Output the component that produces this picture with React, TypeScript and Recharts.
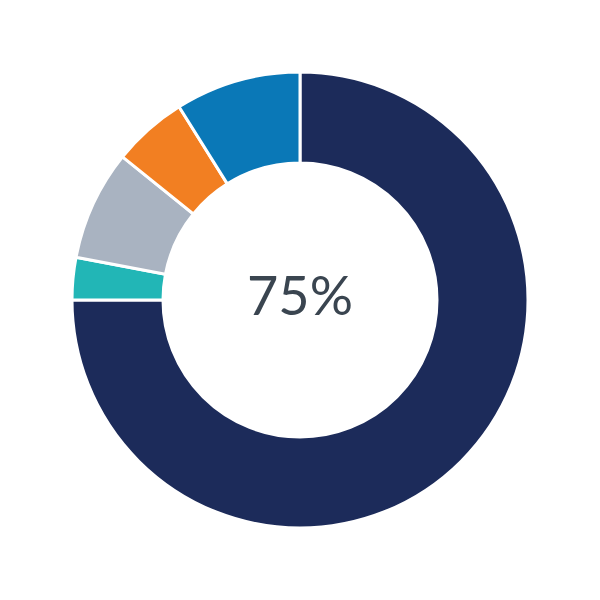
import { PieChart, Pie, Cell, Label } from "recharts"

const segmentNames = ["Navy", "Teal", "Gray", "Orange", "Blue"]
const segmentValues = [75, 3, 7.8, 5.3, 8.9]
const segmentColors = ["#1c2b5a", "#22b6b6", "#a9b3c1", "#f27f22", "#0a78b7"]
const centerLabel = "75%"

export default function App() {
  const data = segmentNames.map((name, i) => ({ name, value: segmentValues[i] }))

  return (
    <div style={{ width: 584, height: 584, background: "#fff" }}>
      <PieChart width={584} height={584} margin={{ top: 0, right: 0, bottom: 0, left: 0 }}>
        <Pie
          data={data}
          dataKey="value"
          cx={292}
          cy={292}
          innerRadius={137}
          outerRadius={228}
          startAngle={90}
          endAngle={-270}
          stroke="#fff"
          strokeWidth={3}
          isAnimationActive={false}
        >
          {data.map((entry, index) => (
            <Cell key={`cell-${index}`} fill={segmentColors[index]} />
          ))}
          <Label
            value={centerLabel}
            position="center"
            fill="#3a4550"
            dy={-4}
            style={{ fontFamily: "Lato, sans-serif", fontSize: 54 }}
          />
        </Pie>
      </PieChart>
    </div>
  )
}
